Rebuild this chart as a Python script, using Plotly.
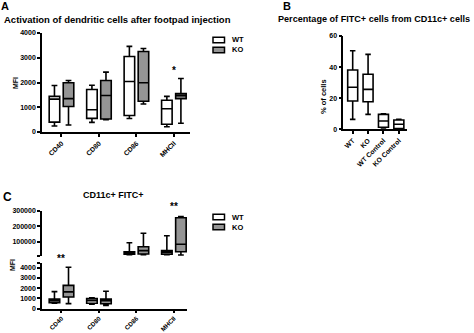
import plotly.graph_objects as go

W, H = 474, 333

# ---- Panel A: activation markers, MFI (min / Q1 / median / Q3 / max) ----
markers = ["CD40", "CD80", "CD86", "MHCII"]
a_wt_min = [245, 390, 545, 215]
a_wt_q1 = [400, 550, 665, 315]
a_wt_med = [1330, 900, 2040, 940]
a_wt_q3 = [1440, 1715, 3050, 1280]
a_wt_max = [1880, 1890, 3460, 1440]
a_ko_min = [285, 495, 1130, 355]
a_ko_q1 = [1030, 525, 1240, 1350]
a_ko_med = [1350, 1475, 1990, 1470]
a_ko_q3 = [1990, 2080, 3250, 1550]
a_ko_max = [2080, 2420, 3375, 2160]

# ---- Panel B: % FITC+ of CD11c+ cells ----
groups_b = ["WT", "KO", "WT Control", "KO Control"]
b_min = [6.4, 9.6, 0.8, 0.0]
b_q1 = [18.2, 17.7, 1.3, 0.5]
b_med = [27.0, 25.7, 5.3, 3.2]
b_q3 = [38.1, 35.4, 9.6, 6.0]
b_max = [50.5, 48.2, 10.0, 6.5]

# ---- Panel C: CD11c+ FITC+ cells, MFI ----
c_wt_min = [530, 450, 13500, 13500]
c_wt_q1 = [590, 530, 16000, 16000]
c_wt_med = [790, 790, 26600, 29000]
c_wt_q3 = [955, 985, 33000, 40000]
c_wt_max = [1675, 1055, 92000, 138000]
c_ko_min = [500, 330, 13500, 11500]
c_ko_q1 = [1150, 490, 18000, 33000]
c_ko_med = [1650, 790, 40000, 82000]
c_ko_q3 = [2280, 955, 66000, 256000]
c_ko_max = [4050, 1710, 154000, 263000]

# broken y axis of panel C
low_range = [0, 4500]
high_range = [5000, 300000]

WT_FILL = "white"
KO_FILL = "#959595"
FONT = "Liberation Sans, Arial, sans-serif"


def px_x(p):
    return p / W


def px_y(p):
    return 1 - p / H


def box(x, lo, q1, med, q3, hi, fill, xa, ya, group, offset, width=None):
    kw = {}
    if width is not None:
        kw["width"] = width
    return go.Box(
        x=x, lowerfence=lo, q1=q1, median=med, q3=q3, upperfence=hi,
        fillcolor=fill, line=dict(color="black", width=1.6),
        whiskerwidth=0.55, boxpoints=False, showlegend=False,
        alignmentgroup=group, offsetgroup=offset,
        xaxis=xa, yaxis=ya, hoverinfo="skip", **kw)


def pick(arr, idx):
    return [arr[i] for i in idx]


fig = go.Figure()

# panel A
fig.add_trace(box(markers, a_wt_min, a_wt_q1, a_wt_med, a_wt_q3, a_wt_max,
                  WT_FILL, "x", "y", "A", "wt"))
fig.add_trace(box(markers, a_ko_min, a_ko_q1, a_ko_med, a_ko_q3, a_ko_max,
                  KO_FILL, "x", "y", "A", "ko"))

# panel B
fig.add_trace(box(groups_b, b_min, b_q1, b_med, b_q3, b_max,
                  WT_FILL, "x2", "y2", "B", "b", width=0.65))

# panel C: low-value markers on the lower segment, high-value ones on the upper
low_idx = [i for i in range(len(markers)) if max(c_wt_max[i], c_ko_max[i]) <= low_range[1]]
high_idx = [i for i in range(len(markers)) if min(c_wt_min[i], c_ko_min[i]) >= high_range[0]]
for idx, ya, grp in ((low_idx, "y3", "C1"), (high_idx, "y4", "C2")):
    xs = pick(markers, idx)
    fig.add_trace(box(xs, pick(c_wt_min, idx), pick(c_wt_q1, idx), pick(c_wt_med, idx),
                      pick(c_wt_q3, idx), pick(c_wt_max, idx), WT_FILL, "x3", ya, grp, "wt"))
    fig.add_trace(box(xs, pick(c_ko_min, idx), pick(c_ko_q1, idx), pick(c_ko_med, idx),
                      pick(c_ko_q3, idx), pick(c_ko_max, idx), KO_FILL, "x3", ya, grp, "ko"))

axis_style = dict(showline=True, linecolor="black", linewidth=1.6, ticks="outside",
                  ticklen=3, tickwidth=1.6, tickcolor="black", showgrid=False,
                  zeroline=False, automargin=False,
                  tickfont=dict(family=FONT, size=7, color="black", weight="bold"))
xtick_font = dict(family=FONT, size=6.8, color="black", weight="bold")

fig.update_layout(
    width=W, height=H, margin=dict(l=0, r=0, t=0, b=0),
    paper_bgcolor="white", plot_bgcolor="white", showlegend=False,
    font=dict(family=FONT, color="black", weight="bold"),
    boxmode="group", boxgap=0.25, boxgroupgap=0.25,
    xaxis=dict(axis_style, domain=[px_x(42), px_x(190)], anchor="y",
               categoryorder="array", categoryarray=markers,
               range=[-0.52, 3.43], tickangle=-45, tickfont=xtick_font),
    yaxis=dict(axis_style, domain=[px_y(132), px_y(33)], anchor="x",
               range=[0, 4000], tickvals=[0, 1000, 2000, 3000, 4000]),
    xaxis2=dict(axis_style, domain=[px_x(343.3), px_x(407)], anchor="y2",
                categoryorder="array", categoryarray=groups_b,
                range=[-0.61, 3.53], tickangle=-45, tickfont=xtick_font),
    yaxis2=dict(axis_style, domain=[px_y(129.3), px_y(36)], anchor="x2",
                range=[0, 60], tickvals=[0, 20, 40, 60]),
    xaxis3=dict(axis_style, domain=[px_x(42), px_x(187)], anchor="y3",
                categoryorder="array", categoryarray=markers, ticklen=2,
                range=[-0.52, 3.35], tickangle=-45,
                tickfont=dict(xtick_font, size=6.3)),
    yaxis3=dict(axis_style, domain=[px_y(308.7), px_y(262.7)], anchor="x3",
                range=low_range, tickvals=[0, 1000, 2000, 3000, 4000, 4500],
                ticktext=["0", "1000", "2000", "3000", "4000", ""]),
    yaxis4=dict(axis_style, domain=[px_y(256), px_y(211)], anchor="x3",
                range=high_range, tickvals=[5000, 100000, 200000, 300000],
                ticktext=["", "100000", "200000", "300000"]),
)

ann = []


def text(s, x, y, size, xref="paper", angle=0, xanchor="center"):
    ann.append(dict(text=s, x=x, y=px_y(y), xref=xref, yref="paper", showarrow=False,
                    xanchor=xanchor, yanchor="middle", textangle=angle,
                    font=dict(family=FONT, size=size, color="black", weight="bold")))


# panel letters and titles
text("A", px_x(5), 6.5, 11)
text("B", px_x(287), 6.5, 11)
text("C", px_x(7), 197, 12)
text("Activation of dendritic cells after footpad injection", px_x(117.5), 19, 9.5)
text("Percentage of FITC+ cells from CD11c+ cells", px_x(373.5), 19, 9.1)
text("CD11c+ FITC+", px_x(113.5), 195, 9)

# axis titles
text("MFI", px_x(15), 83, 7, angle=-90)
text("% of cells", px_x(323), 97, 7.5, angle=-90)
text("MFI", px_x(12), 265, 7, angle=-90)

# significance marks
text("*", "MHCII", 71, 10, xref="x")
text("**", "CD40", 258, 10, xref="x3")
text("**", "MHCII", 206, 10, xref="x3")

# legends
shapes = []
for y0 in (40, 217):
    for k, fill in enumerate((WT_FILL, KO_FILL)):
        yc = y0 + 10 * k
        shapes.append(dict(type="rect", xref="paper", yref="paper",
                           x0=px_x(213), x1=px_x(224.5), y0=px_y(yc + 2.8), y1=px_y(yc - 2.8),
                           fillcolor=fill, line=dict(color="black", width=1.5)))
        text(("WT", "KO")[k], px_x(229.5), yc, 7.5, xanchor="left")

fig.update_layout(annotations=ann, shapes=shapes)

fig.write_html("out.html")
